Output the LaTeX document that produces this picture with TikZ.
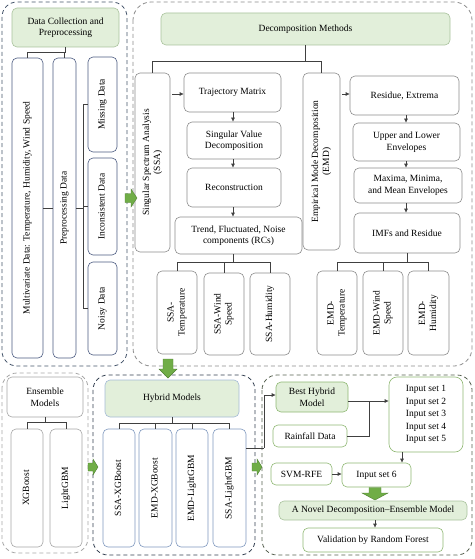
\documentclass[tikz,border=0pt]{standalone}
\usepackage{fontspec}
\setmainfont{Liberation Serif}
\usepackage{graphicx}
\usetikzlibrary{arrows.meta}
\definecolor{gfill}{HTML}{E2EFDA}
\definecolor{gbord}{HTML}{A9C29C}
\definecolor{bbord}{HTML}{4A5A80}
\definecolor{hbord}{HTML}{7F98BE}
\definecolor{hmbord}{HTML}{A4BAD6}
\definecolor{grbord}{HTML}{8FB873}
\definecolor{dgray}{HTML}{8C8C8C}
\definecolor{lgray}{HTML}{A6A6A6}
\definecolor{grpL}{HTML}{44546A}
\definecolor{grpH}{HTML}{333F50}
\definecolor{grpT}{HTML}{55604F}
\definecolor{garc}{HTML}{70AD47}
\definecolor{gard}{HTML}{4E7F32}
\newcommand\vt[1]{\rotatebox{90}{\begin{tabular}{@{}c@{}}#1\end{tabular}}}
\renewcommand\arraystretch{0.95}
% box from corners: style, name, x1, y1, x2, y2, text
\newcommand\B[7]{%
  \pgfmathsetmacro\bcx{(#3+#5)/2}\pgfmathsetmacro\bcy{(#4+#6)/2}%
  \pgfmathsetmacro\bww{#5-#3}\pgfmathsetmacro\bhh{#6-#4}%
  \node[#1, minimum width=\bww pt, minimum height=\bhh pt] (#2) at (\bcx,\bcy) {#7};}
\begin{document}
\begin{tikzpicture}[x=1pt,y=-1pt,
  font=\fontsize{9.5}{11.5}\selectfont,
  bx/.style={draw=#1, rounded corners=5pt, fill=white, inner sep=0pt, align=center, line width=0.6pt},
  gbx/.style={bx=#1, fill=gfill},
  grp/.style={draw=#1, dash pattern=on 4pt off 3pt, line width=0.8pt, rounded corners=15pt},
  conn/.style={draw=black!75, line width=0.6pt},
  arr/.style={conn, -{Latex[length=4pt,width=4pt]}},
  garrow/.style={fill=garc, draw=gard, line width=0.4pt}]
\useasboundingbox (0,0) rectangle (474,559);

% ---------- groups ----------
\draw[grp=grpL] (2,2) rectangle (127,366);
\draw[grp=dgray, rounded corners=18pt] (133,2) rectangle (472,366);
\draw[grp=lgray] (2,373) rectangle (88,553);
\draw[grp=grpH] (93,375) rectangle (255,555);
\draw[grp=grpT] (262,375) rectangle (472,555);

% ---------- data collection ----------
\B{gbx=gbord}{dcp}{12}{8}{119}{47}{Data Collection and\\Preprocessing}
\B{bx=bbord}{mv}{12}{58}{43}{358}{\vt{Multivariate Data: Temperature, Humidity, Wind Speed}}
\B{bx=bbord}{pp}{53}{58}{76}{358}{\vt{Preprocessing Data}}
\B{bx=bbord}{md}{88}{57}{117}{152}{\vt{Missing Data}}
\B{bx=bbord}{id}{88}{158}{117}{255}{\vt{Inconsistent Data}}
\B{bx=bbord}{nd}{88}{262}{117}{355}{\vt{Noisy Data}}

\coordinate (j1) at (dcp.south |- 0,52);
\draw[conn] (dcp.south) -- (j1);
\draw[conn] (j1) -| (mv.north);
\draw[conn] (j1) -| (pp.north);
\draw[conn] (mv.east) -- (pp.west);
\coordinate (j2) at (83,208);
\draw[conn] (pp.east) -- (j2);
\draw[conn] (j2 |- md.west) -- (j2 |- nd.west);
\draw[conn] (j2 |- md.west) -- (md.west);
\draw[conn] (j2 |- id.west) -- (id.west);
\draw[conn] (j2 |- nd.west) -- (nd.west);

% ---------- decomposition ----------
\B{gbx=gbord}{dm}{161}{13}{450}{45}{Decomposition Methods}
\B{bx=dgray}{ssa}{135}{73}{170}{252}{\vt{Singular Spectrum Analysis\\(SSA)}}
\B{bx=dgray}{tm}{184}{73}{281}{112}{Trajectory Matrix}
\B{bx=dgray}{svd}{187}{122}{281}{159}{Singular Value\\Decomposition}
\B{bx=dgray}{rec}{187}{168}{281}{207}{Reconstruction}
\B{bx=dgray}{trend}{175}{217}{302}{254}{Trend, Fluctuated, Noise\\components (RCs)}
\B{bx=dgray}{emd}{303}{73}{340}{250}{\vt{Empirical Mode Decomposition\\(EMD)}}
\B{bx=dgray}{re}{350}{76}{459}{115}{Residue, Extrema}
\B{bx=dgray}{ule}{353}{123}{460}{161}{Upper and Lower\\Envelopes}
\B{bx=dgray}{mme}{354}{168}{462}{203}{Maxima, Minima,\\and Mean Envelopes}
\B{bx=dgray}{imf}{354}{213}{460}{253}{IMFs and Residue}
\B{bx=dgray}{st}{157}{271}{197}{354}{\vt{SSA-\\Temperature}}
\B{bx=dgray}{sw}{204}{273}{244}{355}{\vt{SSA-Wind\\Speed}}
\B{bx=dgray}{sh}{250}{273}{290}{355}{\vt{SSA-Humidity}}
\B{bx=dgray}{et}{317}{271}{357}{355}{\vt{EMD-\\Temperature}}
\B{bx=dgray}{ew}{363}{271}{403}{355}{\vt{EMD-Wind\\Speed}}
\B{bx=dgray}{eh}{408}{271}{449}{355}{\vt{EMD-\\Humidity}}

\coordinate (j3) at (dm.south |- 0,61);
\draw[conn] (dm.south) -- (j3);
\draw[conn] (j3) -| (ssa.north);
\draw[conn] (j3) -| (emd.north);
\draw[arr] (ssa.east |- 0,94) ++(2,0) -- (tm.west |- 0,94);
\draw[arr] (emd.east |- 0,94) ++(2,0) -- (re.west |- 0,94);
\draw[arr] (tm.south -| 233,0) -- (svd.north -| 233,0);
\draw[arr] (svd.south -| 233,0) -- (rec.north -| 233,0);
\draw[arr] (rec.south -| 233,0) -- (trend.north -| 233,0);
\draw[arr] (re.south -| 406,0) -- (ule.north -| 406,0);
\draw[arr] (ule.south -| 406,0) -- (mme.north -| 406,0);
\draw[arr] (mme.south -| 406,0) -- (imf.north -| 406,0);
\coordinate (j4) at (233,262);
\draw[conn] (trend.south -| j4) -- (j4);
\draw[conn] (j4) -| (st.north);
\draw[conn] (j4) -| (sw.north);
\draw[conn] (j4) -| (sh.north);
\coordinate (j5) at (407,262);
\draw[conn] (imf.south -| j5) -- (j5);
\draw[conn] (j5) -| (et.north);
\draw[conn] (j5) -| (ew.north);
\draw[conn] (j5) -| (eh.north);

% ---------- ensemble ----------
\B{bx=lgray}{em}{7}{377}{83}{417}{Ensemble\\Models}
\B{bx=lgray}{xg}{11}{429}{43}{547}{\vt{XGBoost}}
\B{bx=lgray}{lg}{50}{429}{82}{547}{\vt{LightGBM}}
\coordinate (j6) at (em.south |- 0,422);
\draw[conn] (em.south) -- (j6);
\draw[conn] (j6) -| (xg.north);
\draw[conn] (j6) -| (lg.north);

% ---------- hybrid ----------
\B{gbx=hmbord}{hm}{105}{380}{239}{417}{Hybrid Models}
\B{bx=hbord}{h1}{103}{429}{135}{547}{\vt{SSA-XGBoost}}
\B{bx=hbord}{h2}{139}{429}{172}{547}{\vt{EMD-XGBoost}}
\B{bx=hbord}{h3}{176}{429}{208}{547}{\vt{EMD-LightGBM}}
\B{bx=hbord}{h4}{213}{429}{246}{547}{\vt{SSA-LightGBM}}
\coordinate (j7) at (hm.south |- 0,423);
\draw[conn] (hm.south) -- (j7);
\draw[conn] (j7) -| (h1.north);
\draw[conn] (j7) -| (h2.north);
\draw[conn] (j7) -| (h3.north);
\draw[conn] (j7) -| (h4.north);

% ---------- final stage ----------
\B{gbx=grbord}{bh}{276}{382}{348}{412}{Best Hybrid\\Model}
\B{bx=grbord}{rf}{273}{425}{347}{447}{Rainfall Data}
\B{bx=grbord, rounded corners=8pt, font=\fontsize{9.5}{12.5}\selectfont}{is}{389}{377}{463}{452}{Input set 1\\Input set 2\\Input set 3\\Input set 4\\Input set 5}
\B{bx=grbord}{svm}{271}{463}{332}{485}{SVM-RFE}
\B{bx=grbord}{is6}{342}{463}{411}{487}{Input set 6}
\B{gbx=gbord}{nov}{279}{501}{467}{520}{A Novel Decomposition--Ensemble Model}
\B{bx=grbord}{val}{303}{528}{443}{552}{Validation by Random Forest}

\coordinate (j8) at (264,448);
\draw[conn] (h4.east |- j8) -- (j8);
\draw[arr] (j8) |- (bh.west |- 0,395);
\draw[arr] (bh.east |- 0,401) -- (is.west |- 0,401);
\coordinate (j9) at (369,401);
\draw[conn] (rf.east |- 0,436) -| (j9);
\draw[arr] (is.south -| 402,0) -- (is6.north -| 402,0);
\draw[arr] (svm.east |- 0,474) -- (is6.west |- 0,474);
\draw[arr] (nov.south -| 375,0) -- (val.north -| 375,0);

% ---------- green block arrows ----------
\path[garrow] (125,193.5) -- (131,193.5) -- (131,189) -- (137,198) -- (131,207) -- (131,202.5) -- (125,202.5) -- cycle;
\path[garrow] (163,359) -- (173,359) -- (173,369) -- (177,369) -- (168,378) -- (159,369) -- (163,369) -- cycle;
\path[garrow] (88,463) -- (93,463) -- (93,459) -- (98,467) -- (93,475) -- (93,471) -- (88,471) -- cycle;
\path[garrow] (252,463) -- (257,463) -- (257,459) -- (262,467) -- (257,475) -- (257,471) -- (252,471) -- cycle;
\path[garrow] (369,487.5) -- (381,487.5) -- (381,493) -- (388,493) -- (375,500) -- (362,493) -- (369,493) -- cycle;
\end{tikzpicture}
\end{document}
